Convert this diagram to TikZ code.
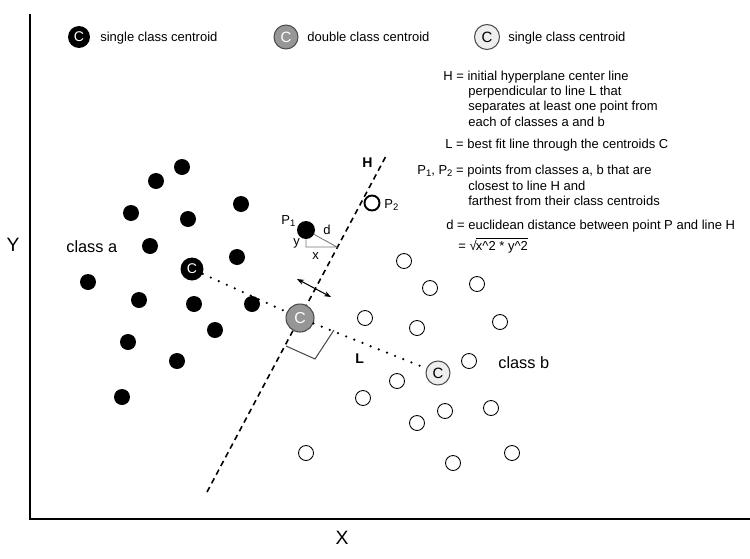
\documentclass[tikz,border=0pt]{standalone}
\usepackage{fontspec}
\setmainfont{Liberation Sans}
\usetikzlibrary{arrows.meta}
\definecolor{dblGray}{RGB}{150,150,150}
\definecolor{rimGray}{RGB}{75,75,75}
\definecolor{lightC}{RGB}{238,238,238}
\definecolor{triGray}{RGB}{120,120,120}
\newcommand{\psub}[1]{\raisebox{-0.3ex}{\fontsize{5.4}{6}\selectfont #1}}

\begin{document}
\begin{tikzpicture}[x=0.02cm, y=-0.02cm, font=\fontsize{7.4}{8.7}\selectfont,
  dotA/.style={circle, fill=black, inner sep=0pt, minimum size=0.32cm},
  dotB/.style={circle, draw=black, line width=0.5pt, fill=white, inner sep=0pt, minimum size=0.30cm},
  centA/.style={circle, fill=black, text=white, inner sep=0pt, minimum size=0.46cm, font=\fontsize{8}{8}\selectfont},
  centAB/.style={circle, draw=rimGray, line width=0.6pt, fill=dblGray, text=white, inner sep=0pt, minimum size=0.56cm, font=\fontsize{9}{9}\selectfont},
  centB/.style={circle, draw=rimGray, line width=0.6pt, fill=lightC, text=black, inner sep=0pt, minimum size=0.48cm, font=\fontsize{8.5}{8.5}\selectfont},
  lbl/.style={anchor=base west, inner sep=0pt},
  axis/.style={line width=1.1pt},
  hline/.style={line width=0.9pt, dash pattern=on 3.2pt off 2.4pt},
  lline/.style={line width=1.4pt, line cap=round, dash pattern=on 0pt off 5pt},
  triline/.style={line width=0.5pt, triGray},
  fineline/.style={line width=0.6pt, rimGray}]
  \useasboundingbox (0,0) rectangle (750,558);

  % axes
  \coordinate (yTop) at (30,14);
  \coordinate (orig) at (30,519);
  \coordinate (xEnd) at (750,519);
  \draw[axis] (yTop) -- (orig) -- (xEnd);
  \node[font=\fontsize{11}{11}\selectfont] (yLab) at (13,245) {Y};
  \node[font=\fontsize{11}{11}\selectfont] (xLab) at (342,538) {X};

  % legend
  \node[centA, minimum size=0.44cm] (legA) at (79,37) {C};
  \node[lbl] (legAtxt) at (100,41) {single class centroid};
  \node[centAB, minimum size=0.48cm, font=\fontsize{8.5}{8.5}\selectfont] (legAB) at (286,37) {C};
  \node[lbl] (legABtxt) at (307,41) {double class centroid};
  \node[centB, minimum size=0.50cm] (legB) at (487,37) {C};
  \node[lbl] (legBtxt) at (508,41) {single class centroid};

  % hyperplane H (under the nodes)
  \coordinate (hBot) at (207,492);
  \coordinate (hTop) at (386,156);
  \draw[hline] (hBot) -- (hTop);
  \node[lbl, font=\fontsize{8}{8}\selectfont\bfseries] (hLab) at (362,167) {H};

  % class a points
  \foreach \px/\py [count=\k] in {182/167, 156/181, 131/213, 188/219, 241/204,
      150/246, 237/257, 88/282, 139/300, 194/304, 252/304, 215/330, 128/342,
      177/361, 122/397} {
    \node[dotA] (a\k) at (\px,\py) {};
  }
  % class b points
  \foreach \px/\py [count=\k] in {404/261, 430/288, 477/284, 365/318, 417/328,
      500/322, 469/361, 397/381, 363/398, 445/411, 491/408, 417/423, 306/453,
      453/463, 512/453} {
    \node[dotB] (b\k) at (\px,\py) {};
  }
  \node[lbl, font=\fontsize{9.3}{9.3}\selectfont] (clsA) at (66,252) {class a};
  \node[lbl, font=\fontsize{9.3}{9.3}\selectfont] (clsB) at (498,368) {class b};

  % centroids and line L
  \node[centA] (cA) at (192,269) {C};
  \node[centAB] (cAB) at (300,318) {C};
  \node[centB] (cB) at (438,373) {C};
  \draw[lline] (cA) -- (cAB);
  \draw[lline] (cAB) -- (cB);
  \node[lbl, font=\fontsize{8}{8}\selectfont\bfseries] (lLab) at (355,363) {L};

  % right angle between H and L
  \coordinate (ra1) at (286,346);
  \coordinate (ra2) at (315,359);
  \coordinate (ra3) at (334,330);
  \draw[fineline] (ra1) -- (ra2) -- (ra3);

  % margin arrow across H
  \coordinate (dA1) at (297,279);
  \coordinate (dA2) at (331,297);
  \draw[{Stealth[length=4pt,width=3pt]}-{Stealth[length=4pt,width=3pt]}, line width=0.6pt] (dA1) -- (dA2);

  % closest points P1, P2
  \node[dotA, minimum size=0.36cm] (p1) at (306,230) {};
  \node[dotB, line width=1.1pt, minimum size=0.30cm] (p2) at (372,203) {};
  \node[lbl] (p1Lab) at (281,224) {P\psub{1}};
  \node[lbl] (p2Lab) at (384,208) {P\psub{2}};
  \coordinate (tri1) at (306,247);
  \coordinate (tri2) at (337,247);
  \draw[triline] (p1) -- (tri1) -- (tri2) -- (p1);
  \node[lbl] (yLegLab) at (293,245) {y};
  \node[lbl] (xLegLab) at (312,259) {x};
  \node[lbl] (dLab) at (323,234) {d};

  % explanation block
  \node[lbl] (defH) at (443,80) {H = initial hyperplane center line};
  \foreach \ty/\txt in {95/{perpendicular to line L that}, 110/{separates at least one point from},
      126/{each of classes a and b}} {
    \node[lbl] at (468,\ty) {\txt};
  }
  \node[lbl] (defL) at (445,148) {L = best fit line through the centroids C};
  \node[lbl] (defP) at (417,174) {P\psub{1}, P\psub{2} = points from classes a, b that are};
  \foreach \ty/\txt in {190/{closest to line H and}, 205/{farthest from their class centroids}} {
    \node[lbl] at (468,\ty) {\txt};
  }
  \node[lbl] (defD) at (446,229) {d = euclidean distance between point P and line H};
  \node[lbl] (defD2) at (458,250) {= √\kern-0.4pt$\overline{\mbox{x\textasciicircum 2 * y\textasciicircum 2}}$};
\end{tikzpicture}
\end{document}
